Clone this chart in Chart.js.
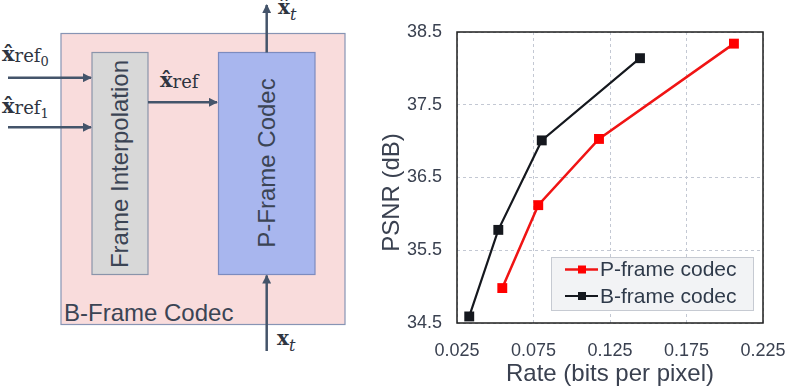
<!DOCTYPE html>
<html>
<head>
<meta charset="utf-8">
<script src="https://cdn.jsdelivr.net/npm/chart.js@4.4.0/dist/chart.umd.min.js"></script>
<style>
  body { margin: 0; background: #fff; }
  #wrap { position: relative; width: 792px; height: 389px; }
  #diagram { position: absolute; left: 0; top: 0; }
  #plot { position: absolute; left: 370px; top: 0; width: 422px; height: 389px; }
  .lbl { font-family: "Liberation Sans", Arial, sans-serif; font-size: 24px; fill: #3b4454; }
  .mx { font-family: "DejaVu Serif", serif; fill: #2e3440; }
</style>
</head>
<body>
<div id="wrap">
  <svg id="diagram" width="370" height="389">
    <defs>
      <marker id="head" viewBox="0 0 10 10" refX="9" refY="5" markerWidth="3.6" markerHeight="3.6" orient="auto">
        <path d="M0,0 L10,5 L0,10 z" fill="#44546a"></path>
      </marker>
    </defs>
    <rect x="61" y="33.5" width="284" height="291" fill="#f9dcdc" stroke="#8794b4" stroke-width="1.2"></rect>
    <rect x="92" y="52.5" width="56" height="222" fill="#d8d8d8" stroke="#8a94aa" stroke-width="1.2"></rect>
    <rect x="218.5" y="52.5" width="96.5" height="222" fill="#a8b6ee" stroke="#7d8bbf" stroke-width="1.2"></rect>

    <g stroke="#44546a" stroke-width="2.5" fill="none">
      <line x1="8" y1="77.7" x2="91" y2="77.7" marker-end="url(#head)"></line>
      <line x1="8" y1="127.3" x2="91" y2="127.3" marker-end="url(#head)"></line>
      <line x1="148" y1="102.3" x2="217" y2="102.3" marker-end="url(#head)"></line>
      <line x1="266.7" y1="52.5" x2="266.7" y2="5" marker-end="url(#head)"></line>
      <line x1="266.7" y1="351" x2="266.7" y2="275.5" marker-end="url(#head)"></line>
    </g>

    <text class="lbl" transform="translate(128,164) rotate(-90)" text-anchor="middle">Frame Interpolation</text>
    <text class="lbl" transform="translate(275,163) rotate(-90)" text-anchor="middle">P-Frame Codec</text>
    <text class="lbl" x="64" y="321">B-Frame Codec</text>

    <text class="mx" x="2" y="61"><tspan font-weight="bold" font-size="21">x&#770;</tspan><tspan font-size="18" dy="1">ref</tspan><tspan font-size="13" dy="4">0</tspan></text>
    <text class="mx" x="2" y="113"><tspan font-weight="bold" font-size="21">x&#770;</tspan><tspan font-size="18" dy="1">ref</tspan><tspan font-size="13" dy="4">1</tspan></text>
    <text class="mx" x="160" y="87"><tspan font-weight="bold" font-size="21">x&#770;</tspan><tspan font-size="18" dy="1">ref</tspan></text>
    <text class="mx" x="278" y="14"><tspan font-weight="bold" font-size="20">x&#770;</tspan><tspan font-size="16" font-style="italic" dy="6">t</tspan></text>
    <text class="mx" x="277" y="345"><tspan font-weight="bold" font-size="20">x</tspan><tspan font-size="16" font-style="italic" dy="6">t</tspan></text>
  </svg>
  <div id="plot"><canvas id="rdChart" width="422" height="389"></canvas></div>
</div>
<script>
const xTickLabels = ['0.025', '0.075', '0.125', '0.175', '0.225'];
const yTickLabels = ['34.5', '35.5', '36.5', '37.5', '38.5'];
const seriesNames = ['P-frame codec', 'B-frame codec'];
const pFrameRate = [0.0546, 0.0781, 0.1178, 0.2060];
const pFramePsnr = [34.98, 36.12, 37.03, 38.34];
const bFrameRate = [0.0330, 0.0520, 0.0804, 0.1446];
const bFramePsnr = [34.59, 35.78, 37.01, 38.14];
const yTitle = 'PSNR (dB)';

const fontFamily = '"Liberation Sans", Arial, sans-serif';
const textColor = '#3a4150';

function toPoints(xs, ys) {
    return xs.map((x, i) => ({ x: x, y: ys[i] }));
}

// frame around the plot, boxed legend inside it, and the y title (sits a bit low in the original)
const frameAndLegend = {
    id: 'frameAndLegend',
    beforeDatasetsDraw(chart) {
        const { ctx, chartArea: a } = chart;
        ctx.save();
        ctx.strokeStyle = '#1e1e1e';
        ctx.lineWidth = 1.5;
        ctx.strokeRect(a.left, a.top, a.right - a.left, a.bottom - a.top);
        ctx.restore();
    },
    afterDatasetsDraw(chart) {
        const { ctx, chartArea: a } = chart;
        const w = 202, h = 53;
        const x0 = a.right - 10 - w, y0 = a.bottom - 13 - h;
        ctx.save();
        ctx.fillStyle = '#f2f3f5';
        ctx.fillRect(x0, y0, w, h);
        ctx.strokeStyle = '#c6cad2';
        ctx.lineWidth = 1;
        ctx.strokeRect(x0 + 0.5, y0 + 0.5, w, h);
        ctx.font = '21px ' + fontFamily;
        ctx.textBaseline = 'middle';
        chart.data.datasets.forEach((ds, i) => {
            const y = y0 + 12.5 + i * 26.5;
            ctx.strokeStyle = ds.borderColor;
            ctx.lineWidth = ds.borderWidth;
            ctx.beginPath();
            ctx.moveTo(x0 + 14, y);
            ctx.lineTo(x0 + 47, y);
            ctx.stroke();
            ctx.fillStyle = ds.pointBackgroundColor;
            ctx.fillRect(x0 + 27, y - 4, 8, 8);
            ctx.fillStyle = '#2f3a4a';
            ctx.fillText(ds.label, x0 + 49, y + 1);
        });

        ctx.translate(22, (a.top + a.bottom) / 2 + 15);
        ctx.rotate(-Math.PI / 2);
        ctx.font = '24px ' + fontFamily;
        ctx.fillStyle = textColor;
        ctx.textAlign = 'center';
        ctx.fillText(yTitle, 0, 0);
        ctx.restore();
    }
};

const ctx = document.getElementById('rdChart').getContext('2d');
new Chart(ctx, {
    type: 'line',
    data: {
        datasets: [{
            label: seriesNames[0],
            data: toPoints(pFrameRate, pFramePsnr),
            borderColor: '#f01414',
            backgroundColor: '#ff0000',
            pointBackgroundColor: '#ff0000',
            pointBorderColor: '#ff0000',
            borderWidth: 2.5,
            pointStyle: 'rect',
            pointRadius: 7,
            pointBorderWidth: 0
        }, {
            label: seriesNames[1],
            data: toPoints(bFrameRate, bFramePsnr),
            borderColor: '#15181e',
            backgroundColor: '#15181e',
            pointBackgroundColor: '#15181e',
            pointBorderColor: '#15181e',
            borderWidth: 2.2,
            pointStyle: 'rect',
            pointRadius: 7,
            pointBorderWidth: 0
        }]
    },
    options: {
        responsive: false,
        animation: false,
        layout: { padding: { top: 32, right: 29, left: 0, bottom: 0 } },
        plugins: {
            legend: { display: false },
            tooltip: { enabled: false }
        },
        scales: {
            x: {
                type: 'linear',
                min: parseFloat(xTickLabels[0]),
                max: parseFloat(xTickLabels[xTickLabels.length - 1]),
                afterBuildTicks: function (scale) {
                    scale.ticks = xTickLabels.map(v => ({ value: parseFloat(v) }));
                },
                afterFit: function (scale) {
                    scale.height = 66;
                    scale.paddingLeft = 0;
                    scale.paddingRight = 0;
                },
                ticks: {
                    autoSkip: false,
                    maxRotation: 0,
                    padding: 17,
                    color: textColor,
                    font: { family: fontFamily, size: 18 },
                    callback: function (value, index) { return xTickLabels[index]; }
                },
                grid: { color: '#c3c8d3', drawTicks: false, lineWidth: 1 },
                border: { display: false, dash: [3, 3] },
                title: {
                    display: true,
                    text: 'Rate (bits per pixel)',
                    color: textColor,
                    font: { family: fontFamily, size: 24 },
                    padding: { top: 0, bottom: 0 }
                }
            },
            y: {
                type: 'linear',
                min: parseFloat(yTickLabels[0]),
                max: parseFloat(yTickLabels[yTickLabels.length - 1]),
                afterBuildTicks: function (scale) {
                    scale.ticks = yTickLabels.map(v => ({ value: parseFloat(v) }));
                },
                afterFit: function (scale) { scale.width = 87; },
                ticks: {
                    autoSkip: false,
                    padding: 15,
                    color: textColor,
                    font: { family: fontFamily, size: 18 },
                    callback: function (value, index) { return yTickLabels[index]; }
                },
                grid: { color: '#c3c8d3', drawTicks: false, lineWidth: 1 },
                border: { display: false, dash: [3, 3] },
                title: { display: false }
            }
        }
    },
    plugins: [frameAndLegend]
});
</script>
</body>
</html>
